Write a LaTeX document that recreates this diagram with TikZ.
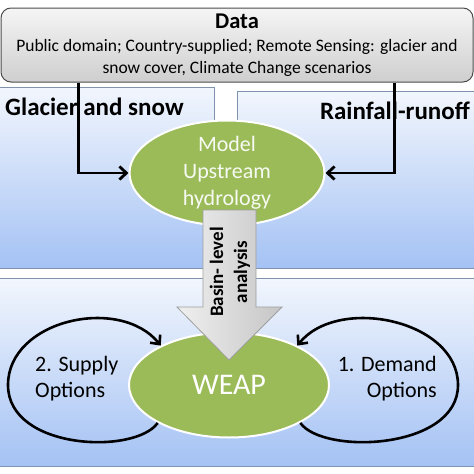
\documentclass[tikz,border=0pt]{standalone}
\usepackage{fontspec}
\setmainfont{Carlito}
\usetikzlibrary{arrows.meta,shapes.geometric}
\definecolor{pnltop}{HTML}{F2F6FD}
\definecolor{pnlbot}{HTML}{A4C2F4}
\definecolor{pnlline}{HTML}{7F93AD}
\definecolor{leaf}{HTML}{9BBB59}
\tikzset{
  panel/.style={draw=pnlline,line width=0.8pt,top color=pnltop,bottom color=pnlbot},
  conn/.style={draw=black,line width=2.8pt,-{Straight Barb[length=7pt,width=13pt,line width=2.8pt]}},
  loopline/.style={draw=black,line width=2.6pt,-{Straight Barb[length=7pt,width=13pt,line width=2.6pt]}},
  greenell/.style={ellipse,fill=leaf,draw=white,line width=2pt,inner sep=0pt,text=white},
  lbl/.style={inner sep=0pt,font=\fontsize{22}{26}\selectfont},
  head/.style={inner sep=0pt,font=\fontsize{25}{28}\selectfont\bfseries},
}
\begin{document}
\begin{tikzpicture}[x=1pt,y=-1pt]
\useasboundingbox (0,0) rectangle (474,474);
\fill[white] (0,0) rectangle (474,474);
% panels
\path[panel] (-2,87) rectangle (214,268);
\path[panel] (237,91) rectangle (476,268);
\path[panel] (-2,278) rectangle (476,466);
% panel titles
\node[head,anchor=west] (glac) at (5,107) {Glacier and snow};
\node[head,anchor=east] (rain) at (470,111) {Rainfall-runoff};
% data box
\node[draw=black!70,line width=1pt,rounded corners=10pt,top color=gray!8,bottom color=gray!38,
      minimum width=472pt,minimum height=74pt,inner sep=0pt,align=center,
      font=\fontsize{17.5}{22}\selectfont] (data) at (237,45)
  {{\fontsize{22.5}{22}\selectfont\bfseries Data}\\[1pt]
   Public domain; Country-supplied; Remote Sensing: glacier and\\
   snow cover, Climate Change scenarios};
% model ellipse
\node[greenell,minimum width=195pt,minimum height=105pt,align=center,
      font=\fontsize{22}{27}\selectfont,text=white!92!leaf] (model) at (227,173)
  {Model\\Upstream\\hydrology};
% arrows from data
\draw[conn] ([xshift=78pt]data.south west) |- (model.west);
\draw[conn] ([xshift=-79pt]data.south east) |- (model.east);
% weap ellipse
\node[greenell,minimum width=200pt,minimum height=105pt,
      font=\fontsize{30}{34}\selectfont] (weap) at (229,385) {WEAP};
% block arrow
\path[draw=gray!75,line width=0.8pt,left color=gray!12,right color=gray!45]
  (203,210) -- (256,210) -- (256,307) -- (282,307) -- (229,360) -- (177,307) -- (203,307) -- cycle;
\node[rotate=90,align=center,inner sep=0pt,font=\fontsize{19}{24}\selectfont\bfseries] (basin) at (230,272)
  {Basin- level\\analysis};
% loops
\draw[loopline] (weap.208) .. controls (135,455) and (8,450) .. (8,385)
   .. controls (8,320) and (120,295) .. (weap.150);
\draw[loopline] (weap.332) .. controls (323,455) and (458,450) .. (458,385)
   .. controls (458,320) and (338,295) .. (weap.30);
% loop labels
\node[lbl,align=left,anchor=west] (supply) at (35,379) {2. Supply\\Options};
\node[lbl,align=right,anchor=east] (demand) at (437,379) {1. Demand\\Options};
\end{tikzpicture}
\end{document}
